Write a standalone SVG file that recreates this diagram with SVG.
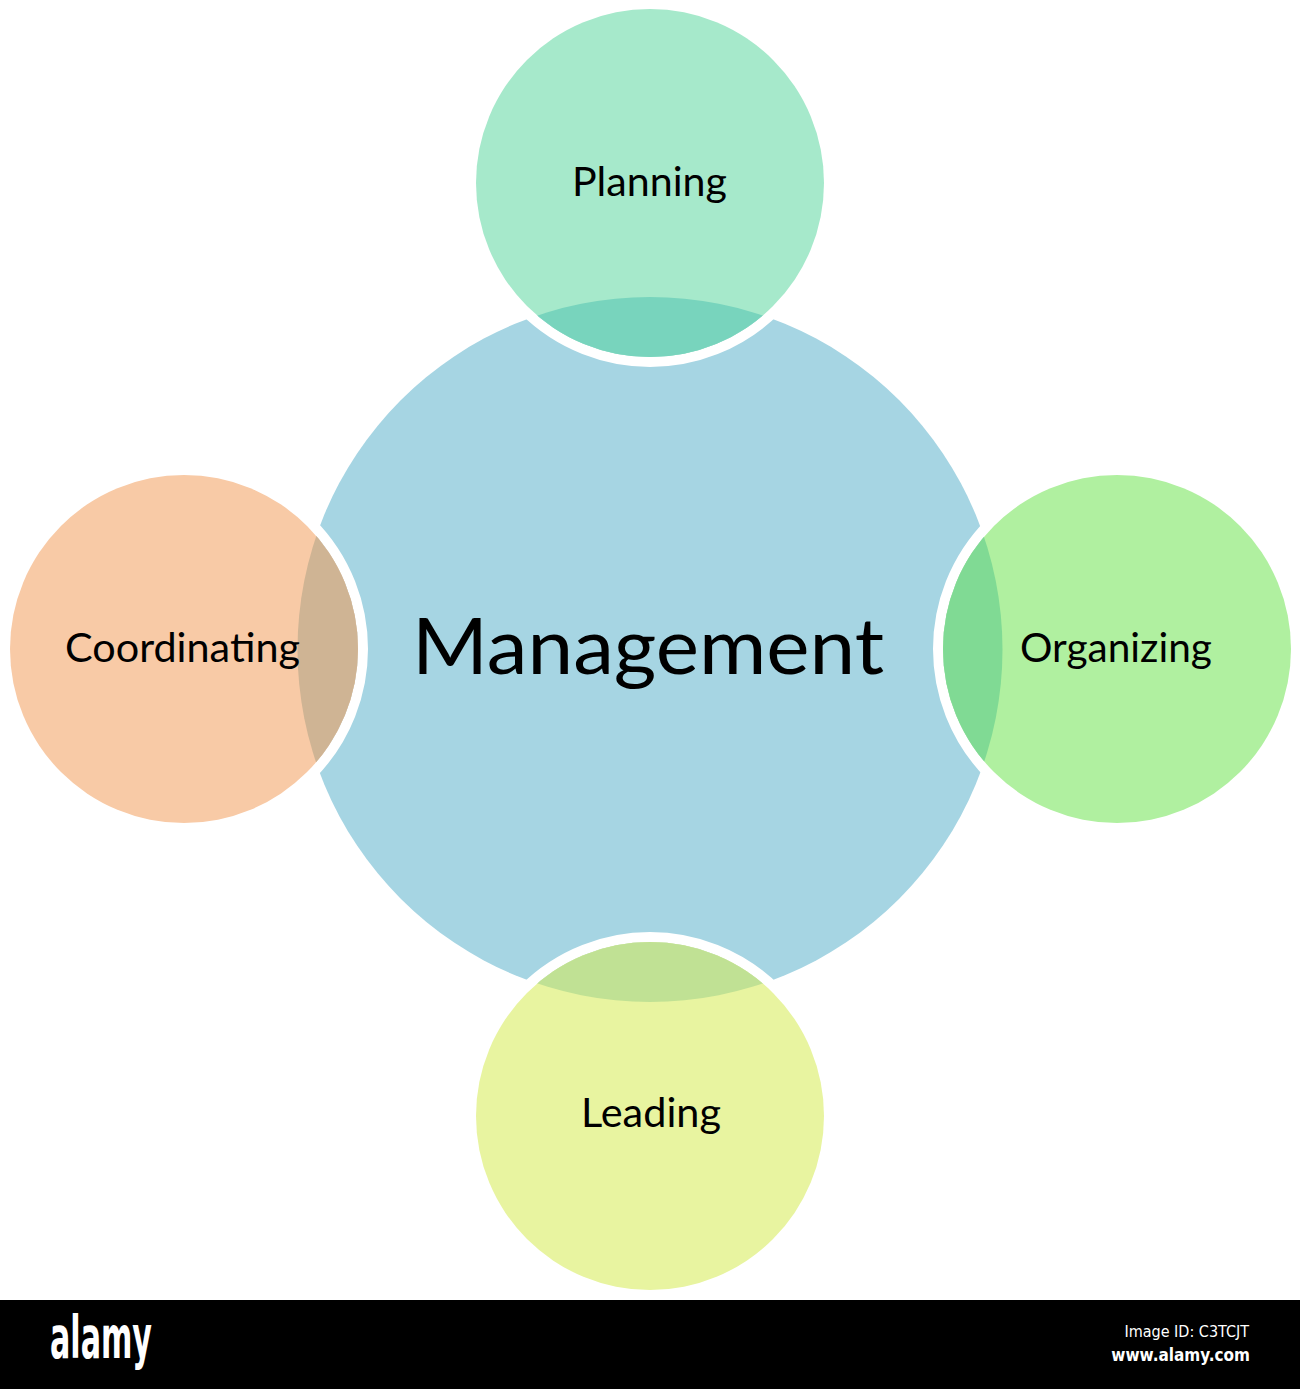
<svg xmlns="http://www.w3.org/2000/svg" width="1300" height="1389" viewBox="0 0 1300 1389">
  <style>
    .lbl { font-family: Lato, "Open Sans", "Liberation Sans", sans-serif; fill: #000; text-anchor: start; }
    .sat { font-size: 41px; }
    .ring { fill: none; stroke: #ffffff; stroke-width: 10; }
    .bar { font-family: "Liberation Sans Narrow", "DejaVu Sans Condensed", "Liberation Sans", sans-serif; fill: #ffffff; }
  </style>
  <defs>
    <clipPath id="cpPlan"><circle cx="650" cy="183" r="174"/></clipPath>
    <clipPath id="cpLead"><circle cx="650" cy="1116" r="174"/></clipPath>
    <clipPath id="cpCoord"><circle cx="184" cy="649" r="174"/></clipPath>
    <clipPath id="cpOrg"><circle cx="1117" cy="649" r="174"/></clipPath>
  </defs>
  <rect x="0" y="0" width="1300" height="1389" fill="#ffffff"/>

  <g id="management">
    <circle cx="650" cy="649.5" r="352.5" fill="#a6d5e3"/>
  </g>

  <g id="connectors"></g>

  <g id="planning">
    <circle class="ring" cx="650" cy="183" r="179"/>
    <circle cx="650" cy="183" r="174" fill="#a6e9cb"/>
    <circle cx="650" cy="649.5" r="352.5" fill="#78d4bd" clip-path="url(#cpPlan)"/>
    <text class="lbl sat" x="572" y="196" textLength="155" lengthAdjust="spacingAndGlyphs">Planning</text>
  </g>

  <g id="leading">
    <circle class="ring" cx="650" cy="1116" r="179"/>
    <circle cx="650" cy="1116" r="174" fill="#e8f4a0"/>
    <circle cx="650" cy="649.5" r="352.5" fill="#c0e194" clip-path="url(#cpLead)"/>
    <text class="lbl sat" x="581" y="1127" textLength="140" lengthAdjust="spacingAndGlyphs">Leading</text>
  </g>

  <g id="coordinating">
    <circle class="ring" cx="184" cy="649" r="179"/>
    <circle cx="184" cy="649" r="174" fill="#f8caa6"/>
    <circle cx="650" cy="649.5" r="352.5" fill="#cfb494" clip-path="url(#cpCoord)"/>
    <text class="lbl sat" x="65" y="662" textLength="235" lengthAdjust="spacingAndGlyphs">Coordinating</text>
  </g>

  <g id="organizing">
    <circle class="ring" cx="1117" cy="649" r="179"/>
    <circle cx="1117" cy="649" r="174" fill="#b0f0a0"/>
    <circle cx="650" cy="649.5" r="352.5" fill="#80da94" clip-path="url(#cpOrg)"/>
    <text class="lbl sat" x="1020" y="662" textLength="192" lengthAdjust="spacingAndGlyphs">Organizing</text>
  </g>

  <g id="management-label">
    <text class="lbl" x="412" y="674" font-size="77" textLength="472" lengthAdjust="spacingAndGlyphs">Management</text>
  </g>

  <g id="footer">
    <rect x="0" y="1300" width="1300" height="89" fill="#000000"/>
    <text class="bar" x="50" y="1358" font-size="58" font-weight="bold" textLength="102" lengthAdjust="spacingAndGlyphs">alamy</text>
    <text class="bar" x="1249" y="1337" font-size="16" text-anchor="end" font-family="'Open Sans', sans-serif">Image ID: C3TCJT</text>
    <text class="bar" x="1250" y="1361" font-size="17" font-weight="bold" text-anchor="end" font-family="'Open Sans', sans-serif">www.alamy.com</text>
  </g>
</svg>
